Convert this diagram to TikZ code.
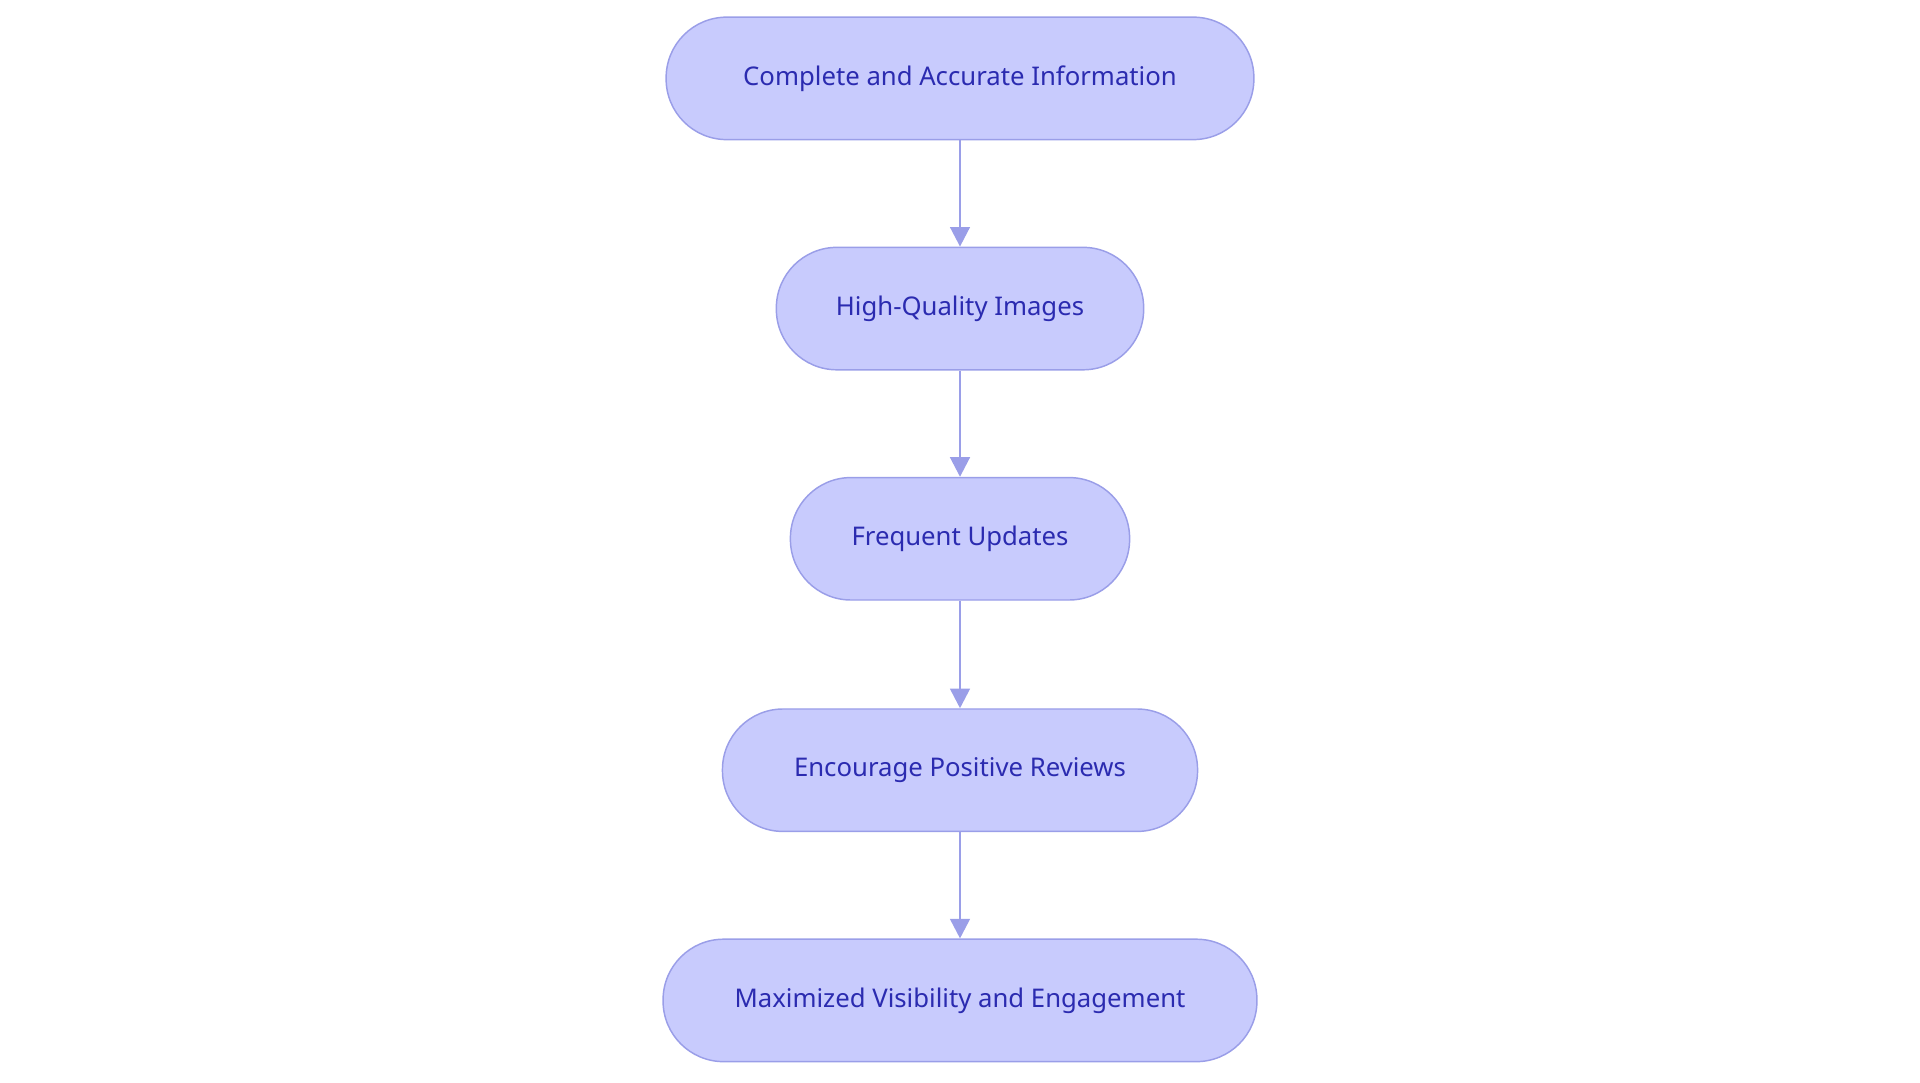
\documentclass[tikz,border=0pt]{standalone}
\usepackage{fontspec}
\setmainfont{Noto Sans}
\usetikzlibrary{arrows.meta}
\definecolor{nfill}{HTML}{C8CBFD}
\definecolor{nline}{HTML}{9A9EE8}
\definecolor{ntext}{HTML}{2B2BB0}
\begin{document}
\begin{tikzpicture}[x=1pt,y=-1pt,
  box/.style={draw=nline,line width=1.2pt,fill=nfill,rounded corners=49.5pt,minimum height=100pt,inner sep=0pt,text=ntext,font=\fontsize{21}{25}\selectfont},
  arr/.style={draw=nline,line width=2.2pt,-{Triangle[length=16pt,width=16pt]}}]
\useasboundingbox (0,0) rectangle (1568,884);
\node[box,minimum width=480pt] (a) at (784,64) {Complete and Accurate Information};
\node[box,minimum width=300pt] (b) at (784,252) {High-Quality Images};
\node[box,minimum width=277pt] (c) at (784,440) {Frequent Updates};
\node[box,minimum width=388pt] (d) at (784,629) {Encourage Positive Reviews};
\node[box,minimum width=485pt] (e) at (784,817) {Maximized Visibility and Engagement};
\draw[arr] (a) -- (b);
\draw[arr] (b) -- (c);
\draw[arr] (c) -- (d);
\draw[arr] (d) -- (e);
\end{tikzpicture}
\end{document}
